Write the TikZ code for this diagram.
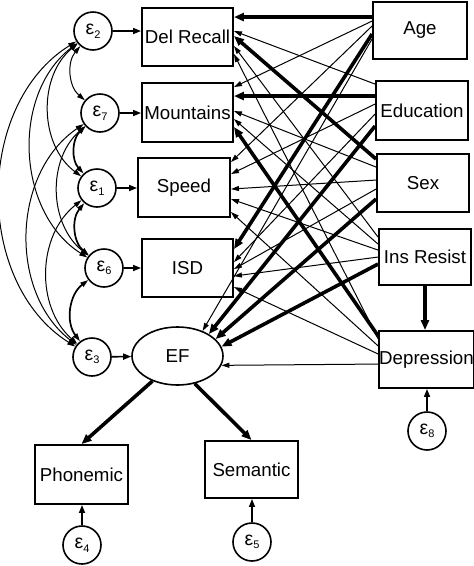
\documentclass[tikz,border=0pt]{standalone}
\usepackage{fontspec}
\setmainfont{Liberation Sans}
\usetikzlibrary{arrows.meta,shapes.geometric}
\newcommand{\epslab}[1]{{\fontsize{19.5}{19}\selectfont ε\raisebox{-3.5pt}{\fontsize{11}{11}\selectfont #1}}}
\begin{document}
\begin{tikzpicture}[x=1pt,y=-1pt,
  box/.style={draw,line width=1.9pt,inner sep=0pt,font=\fontsize{18.7}{20}\selectfont},
  errc/.style={draw,circle,line width=1.6pt,minimum size=38pt,inner sep=0pt},
  thinarr/.style={line width=1pt,-{Triangle[length=8pt,width=5pt]}},
  thickarr/.style={line width=3.6pt,-{Triangle[length=10pt,width=8pt]}},
  errarr/.style={line width=1.6pt,-{Triangle[length=8pt,width=6pt]}},
  cov/.style={line width=1pt,{Triangle[length=8pt,width=5pt]}-{Triangle[length=8pt,width=5pt]}},
  covb/.style={cov,line width=1.7pt}]
\useasboundingbox (0,0) rectangle (474,566);
% left column
\node[box,minimum width=91pt,minimum height=58pt] (DR) at (187.5,37) {Del Recall};
\node[box,minimum width=91pt,minimum height=59pt] (MT) at (187.5,112.5) {Mountains};
\node[box,minimum width=92pt,minimum height=59pt] (SP) at (184,187.5) {Speed};
\node[box,minimum width=91pt,minimum height=58pt] (ISD) at (187.5,268) {ISD};
\node[draw,ellipse,line width=1.6pt,minimum width=91pt,minimum height=58pt,inner sep=0pt,font=\fontsize{18.7}{20}\selectfont] (EF) at (177.5,356) {EF};
% right column
\node[box,minimum width=94pt,minimum height=57pt] (A) at (420,30.5) {Age};
\node[box,minimum width=92pt,minimum height=59pt] (E) at (422,110.5) {Education};
\node[box,minimum width=92pt,minimum height=58pt] (S) at (423,183) {Sex};
\node[box,minimum width=92pt,minimum height=56pt] (I) at (425,257) {Ins Resist};
\node[box,minimum width=93pt,minimum height=57pt] (D) at (426.5,359.5) {Depression};
% bottom
\node[box,minimum width=93pt,minimum height=59pt] (PH) at (81.5,474.5) {Phonemic};
\node[box,minimum width=93pt,minimum height=57pt] (SE) at (251.5,469.5) {Semantic};
% error circles
\node[errc] (e2) at (93,31) {\epslab{2}};
\node[errc] (e7) at (100,113) {\epslab{7}};
\node[errc] (e1) at (97,188) {\epslab{1}};
\node[errc] (e6) at (104,268) {\epslab{6}};
\node[errc] (e3) at (92,357) {\epslab{3}};
\node[errc] (e8) at (427,431) {\epslab{8}};
\node[errc] (e4) at (82,545) {\epslab{4}};
\node[errc] (e5) at (252,542) {\epslab{5}};
% error arrows
\draw[errarr] (e2) -- (e2 -| DR.west);
\draw[errarr] (e7) -- (e7 -| MT.west);
\draw[errarr] (e1) -- (e1 -| SP.west);
\draw[errarr] (e6) -- (e6 -| ISD.west);
\draw[errarr] (e3) -- (EF);
\draw[errarr] (e8) -- (e8 |- D.south);
\draw[errarr] (e4) -- (e4 |- PH.south);
\draw[errarr] (e5) -- (e5 |- SE.south);
% covariances
\draw[cov] (e2) to[bend right=45] (e7);
\draw[cov] (e2) to[bend right=52] (e1);
\draw[cov] (e2) to[bend right=55] (e6);
\draw[cov] (e2) to[bend right=58] (e3);
\draw[covb] (e7) to[bend right=45] (e1);
\draw[cov] (e7) to[bend right=50] (e6);
\draw[cov] (e7) to[bend right=54] (e3);
\draw[covb] (e1) to[bend right=45] (e6);
\draw[cov] (e1) to[bend right=50] (e3);
\draw[covb] (e6) to[bend right=45] (e3);
% Age
\draw[thickarr] ([yshift=-16pt]A.north west) -- ([yshift=-10pt]DR.north east);
\draw[thinarr] ([yshift=-20pt]A.north west) -- ([yshift=-5pt]MT.north east);
\draw[thinarr] ([yshift=-25pt]A.north west) -- ([yshift=-5pt]SP.north east);
\draw[thickarr] ([yshift=-33pt]A.north west) -- ([yshift=-11pt]ISD.north east);
\draw[thinarr] ([yshift=-38pt]A.north west) -- (EF.45);
% Education
\draw[thinarr] ([yshift=-4pt]E.north west) -- ([yshift=-24pt]DR.north east);
\draw[thickarr] ([yshift=-16pt]E.north west) -- ([yshift=-14pt]MT.north east);
\draw[thinarr] ([yshift=-24pt]E.north west) -- ([yshift=-17pt]SP.north east);
\draw[thinarr] ([yshift=-34pt]E.north west) -- ([yshift=-24pt]ISD.north east);
\draw[thickarr] ([yshift=-46pt]E.north west) -- (EF.35);
% Sex
\draw[thickarr] ([yshift=-6pt]S.north west) -- ([yshift=-29pt]DR.north east);
\draw[thinarr] ([yshift=-14pt]S.north west) -- ([yshift=-29pt]MT.north east);
\draw[thinarr] ([yshift=-27pt]S.north west) -- ([yshift=-32pt]SP.north east);
\draw[thinarr] ([yshift=-36pt]S.north west) -- ([yshift=-31pt]ISD.north east);
\draw[thickarr] ([yshift=-46pt]S.north west) -- (EF.24);
% Ins Resist
\draw[thinarr] ([yshift=-9pt]I.north west) -- ([yshift=-39pt]DR.north east);
\draw[thinarr] ([yshift=-16pt]I.north west) -- ([yshift=-37pt]MT.north east);
\draw[thinarr] ([yshift=-22pt]I.north west) -- ([yshift=-42pt]SP.north east);
\draw[thinarr] ([yshift=-29pt]I.north west) -- ([yshift=-38pt]ISD.north east);
\draw[thickarr] ([yshift=-36pt]I.north west) -- (EF.12);
\draw[thickarr] (I.south) -- (D.north -| I.south);
% Depression
\draw[thinarr] ([yshift=-9pt]D.north west) -- ([yshift=-47pt]DR.north east);
\draw[thickarr] ([yshift=-6pt]D.north west) -- ([yshift=-45pt]MT.north east);
\draw[thinarr] ([yshift=-16pt]D.north west) -- ([yshift=-55pt]SP.north east);
\draw[thinarr] ([yshift=-24pt]D.north west) -- ([yshift=-49pt]ISD.north east);
\draw[thinarr] ([yshift=-34pt]D.north west) -- (EF.-12);
% EF indicators
\draw[thickarr] (EF.225) -- (PH.north);
\draw[thickarr] (EF.-58) -- (SE.north);
\end{tikzpicture}
\end{document}
